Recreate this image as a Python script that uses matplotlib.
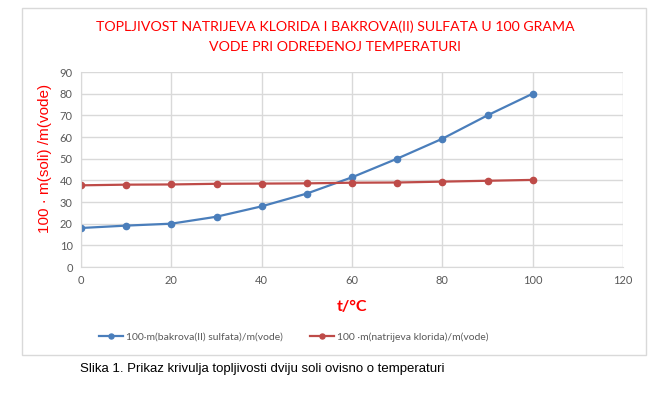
import matplotlib.pyplot as plt
from matplotlib.patches import Rectangle

# data
temperature = [0, 10, 20, 30, 40, 50, 60, 70, 80, 90, 100]
bakrov_sulfat = [18.0, 19.1, 20.0, 23.2, 28.0, 33.9, 41.4, 50.0, 59.2, 70.0, 80.0]
natrijev_klorid = [37.7, 38.0, 38.1, 38.4, 38.5, 38.6, 38.9, 39.0, 39.4, 39.8, 40.2]
x_ticks = [0, 20, 40, 60, 80, 100, 120]
y_ticks = [0, 10, 20, 30, 40, 50, 60, 70, 80, 90]

blue = '#4A7EBB'
red = '#BE4B48'
grey = '#595959'

fig = plt.figure(figsize=(6.54, 3.93), dpi=100)
W, H = 654, 393

# outer chart frame
fig.patches.append(Rectangle((21.5 / W, 1 - 355 / H), 624 / W, (355 - 7.5) / H,
                             transform=fig.transFigure, fill=False,
                             edgecolor='#D9D9D9', linewidth=1.0))

ax = fig.add_axes([81 / W, 1 - 267 / H, 542 / W, 195 / H])
ax.plot(temperature, bakrov_sulfat, color=blue, linewidth=1.6, marker='o', markersize=4.5,
        label='100·m(bakrova(II) sulfata)/m(vode)')
ax.plot(temperature, natrijev_klorid, color=red, linewidth=1.6, marker='o', markersize=4.5,
        label='100 ·m(natrijeva klorida)/m(vode)')

ax.set_xlim(0, 120)
ax.set_ylim(0, 90)
ax.set_xticks(x_ticks)
ax.set_yticks(y_ticks)
ax.grid(True, color='#D9D9D9', linewidth=1)
ax.set_axisbelow(True)
for s in ['top', 'right']:
    ax.spines[s].set_visible(False)
ax.spines['left'].set_color('#D9D9D9')
ax.spines['bottom'].set_color('#D9D9D9')
ax.tick_params(length=0, labelsize=8, labelcolor=grey, pad=6)
for lab in ax.get_xticklabels() + ax.get_yticklabels():
    lab.set_fontfamily('Lato')

ax.set_xlabel('t/°C', color='red', fontsize=11.5, fontweight='bold', family='Lato', labelpad=10)
fig.text(45 / W, 1 - 158 / H, '100 · m(soli) /m(vode)', rotation=90, color='red',
         fontsize=11, family='Liberation Sans', ha='center', va='center')

fig.text(335 / W, 1 - 27 / H, 'TOPLJIVOST NATRIJEVA KLORIDA I BAKROVA(II) SULFATA U 100 GRAMA',
         color='red', fontsize=10.2, family='Lato', ha='center', va='center')
fig.text(335 / W, 1 - 47 / H, 'VODE PRI ODREĐENOJ TEMPERATURI',
         color='red', fontsize=10.2, family='Lato', ha='center', va='center')

fig.legend(loc='center', bbox_to_anchor=(294 / W, 1 - 337 / H), ncol=2, frameon=False,
           prop={'family': 'Lato', 'size': 7.5}, labelcolor=grey, handlelength=2.3,
           columnspacing=2.6, handletextpad=0.3, markerscale=0.8)

fig.text(80 / W, 1 - 369 / H, 'Slika 1. Prikaz krivulja topljivosti dviju soli ovisno o temperaturi',
         color='black', fontsize=9.5, family='Liberation Sans', ha='left', va='center')

fig.savefig('out.png', dpi=100)
